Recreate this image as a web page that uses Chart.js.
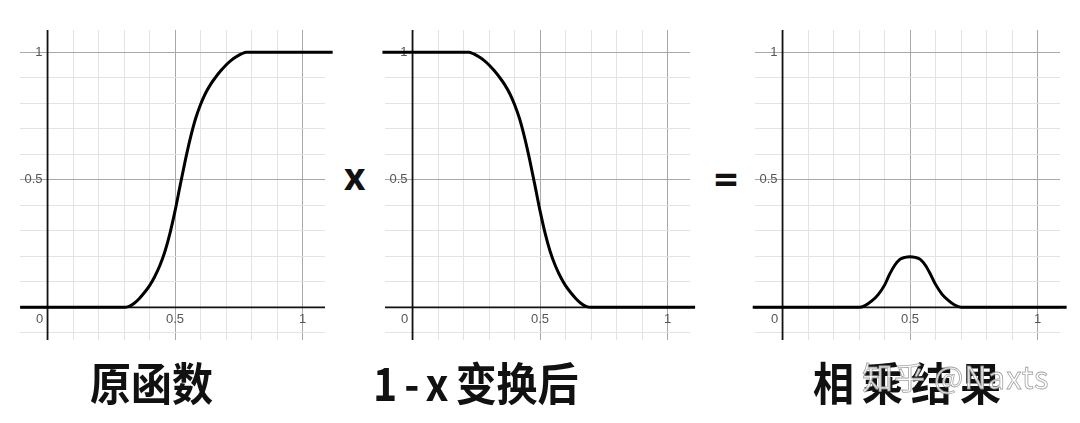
<!DOCTYPE html>
<html lang="zh">
<head>
<meta charset="UTF-8">
<title>原函数 x 1-x变换后 = 相乘结果</title>
<script src="https://cdn.jsdelivr.net/npm/chart.js"></script>
<style>
body {
    margin: 0;
    width: 1080px;
    height: 423px;
    background: #fff;
    position: relative;
    overflow: hidden;
    font-family: 'Noto Sans CJK SC', 'Noto Sans', sans-serif;
}
.panel {
    position: absolute;
    top: 18px;
    width: 329px;
    height: 334px;
}
.op {
    position: absolute;
    font-family: 'Noto Sans', sans-serif;
    font-weight: 700;
    line-height: 1;
    color: #111;
}
.caption {
    position: absolute;
    top: 355px;
    font-size: 41px;
    font-weight: 700;
    line-height: 1.2;
    color: #111;
    transform: scaleY(1.1);
    transform-origin: left top;
    white-space: nowrap;
}
.caption .latin {
    letter-spacing: 7px;
}
.watermark {
    position: absolute;
    left: 862px;
    top: 357px;
    font-size: 31px;
    letter-spacing: 1px;
    line-height: 1.2;
    color: rgba(255,255,255,0.85);
    -webkit-text-stroke: 0.8px rgba(140,140,140,0.8);
    white-space: nowrap;
}
</style>
</head>
<body>
<div class="panel" style="left:8px"><canvas id="chartOriginal" width="329" height="334"></canvas></div>
<div class="panel" style="left:373px"><canvas id="chartFlipped" width="329" height="334"></canvas></div>
<div class="panel" style="left:743px"><canvas id="chartProduct" width="329" height="334"></canvas></div>

<div class="op" style="left:344px; top:157px; font-size:37px">x</div>
<div class="op" style="left:714px; top:157px; font-size:42px">=</div>

<div class="caption" style="left:90px">原函数</div>
<div class="caption" style="left:373px"><span class="latin">1-x</span>变换后</div>
<div class="caption" style="left:813px; letter-spacing:8px">相乘结果</div>
<div class="watermark">知乎 @Naxts</div>

<script>
// curves
const originalX = [-0.107, 0.30, 0.32, 0.34, 0.36, 0.38, 0.40, 0.42, 0.44, 0.46, 0.48, 0.50, 0.52, 0.54, 0.56, 0.58, 0.60, 0.62, 0.64, 0.66, 0.68, 0.70, 0.72, 0.74, 0.76, 0.78, 1.118];
const originalY = [0, 0, 0.004, 0.016, 0.035, 0.058, 0.085, 0.12, 0.163, 0.218, 0.29, 0.378, 0.478, 0.575, 0.663, 0.738, 0.795, 0.84, 0.875, 0.903, 0.928, 0.95, 0.968, 0.982, 0.993, 1, 1];

const flippedX = [-0.118, 0.22, 0.24, 0.26, 0.28, 0.30, 0.32, 0.34, 0.36, 0.38, 0.40, 0.42, 0.44, 0.46, 0.48, 0.50, 0.52, 0.54, 0.56, 0.58, 0.60, 0.62, 0.64, 0.66, 0.68, 0.70, 1.108];
const flippedY = [1, 1, 0.993, 0.982, 0.968, 0.95, 0.928, 0.903, 0.875, 0.84, 0.795, 0.738, 0.663, 0.575, 0.478, 0.378, 0.29, 0.218, 0.163, 0.12, 0.085, 0.058, 0.035, 0.016, 0.004, 0, 0];

const productX = [-0.117, 0.30, 0.325, 0.35, 0.375, 0.40, 0.42, 0.44, 0.46, 0.48, 0.50, 0.52, 0.54, 0.56, 0.58, 0.60, 0.625, 0.65, 0.675, 0.70, 1.114];
const productY = [0, 0, 0.008, 0.025, 0.05, 0.087, 0.13, 0.165, 0.188, 0.196, 0.198, 0.196, 0.188, 0.165, 0.13, 0.09, 0.052, 0.027, 0.009, 0, 0];

// grid lines and tick labels
const gridX = [0, 0.1, 0.2, 0.3, 0.4, 0.5, 0.6, 0.7, 0.8, 0.9, 1];
const gridY = [-0.1, 0, 0.1, 0.2, 0.3, 0.4, 0.5, 0.6, 0.7, 0.8, 0.9, 1];
const majorLines = [0.5, 1];
const xLabelValues = [0.5, 1];
const xLabelTexts = ['0.5', '1'];
const yLabelValues = [0.5, 1];
const yLabelTexts = ['0.5', '1'];
const originLabel = '0';

function gridColor(v) {
    if (Math.abs(v) < 1e-9) return 'rgba(0,0,0,0)'; // axes drawn by plugin
    if (majorLines.some(m => Math.abs(m - v) < 1e-9)) return '#a8a8a8';
    return '#e3e3e3';
}

// axes + GeoGebra-like labels next to the axes
const axisLabels = {
    id: 'axisLabels',
    beforeDatasetsDraw(chart) {
        const ctx = chart.ctx;
        const xs = chart.scales.x, ys = chart.scales.y, area = chart.chartArea;
        const x0 = xs.getPixelForValue(0), y0 = ys.getPixelForValue(0);
        ctx.save();
        ctx.strokeStyle = '#111';
        ctx.lineWidth = 1.8;
        ctx.beginPath();
        ctx.moveTo(x0, area.top); ctx.lineTo(x0, area.bottom);
        ctx.moveTo(area.left, y0); ctx.lineTo(area.right, y0);
        ctx.stroke();

        ctx.font = '13px "Liberation Sans", Arial, sans-serif';
        ctx.fillStyle = '#555';
        ctx.textBaseline = 'middle';
        ctx.textAlign = 'center';
        xLabelValues.forEach((v, i) => ctx.fillText(xLabelTexts[i], xs.getPixelForValue(v), y0 + 12));
        ctx.fillText(originLabel, x0 - 8, y0 + 12);
        ctx.textAlign = 'right';
        yLabelValues.forEach((v, i) => ctx.fillText(yLabelTexts[i], x0 - 5, ys.getPixelForValue(v)));
        ctx.restore();
    }
};

function makeChart(id, xs, ys) {
    const points = xs.map((x, i) => ({ x: x, y: ys[i] }));
    return new Chart(document.getElementById(id), {
        type: 'line',
        data: {
            datasets: [{
                data: points,
                borderColor: '#000',
                borderWidth: 3,
                pointRadius: 0,
                cubicInterpolationMode: 'monotone',
                clip: 10
            }]
        },
        options: {
            responsive: false,
            animation: false,
            layout: { padding: 12 },
            plugins: { legend: { display: false }, tooltip: { enabled: false } },
            scales: {
                x: {
                    type: 'linear',
                    min: -0.108,
                    max: 1.088,
                    afterBuildTicks: s => { s.ticks = gridX.map(v => ({ value: v })); },
                    ticks: { display: false },
                    border: { display: false },
                    grid: { color: c => gridColor(c.tick.value), lineWidth: 1, drawTicks: false }
                },
                y: {
                    type: 'linear',
                    min: -0.128,
                    max: 1.087,
                    afterBuildTicks: s => { s.ticks = gridY.map(v => ({ value: v })); },
                    ticks: { display: false },
                    border: { display: false },
                    grid: { color: c => gridColor(c.tick.value), lineWidth: 1, drawTicks: false }
                }
            }
        },
        plugins: [axisLabels]
    });
}

makeChart('chartOriginal', originalX, originalY);
makeChart('chartFlipped', flippedX, flippedY);
makeChart('chartProduct', productX, productY);
</script>
</body>
</html>
